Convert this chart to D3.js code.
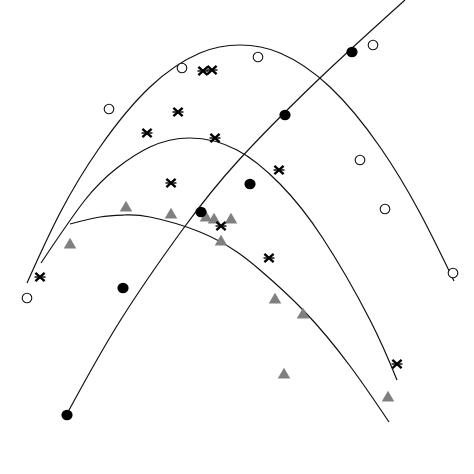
<!DOCTYPE html>
<html>
<head>
<meta charset="utf-8">
<script src="https://cdn.jsdelivr.net/npm/d3@7"></script>
<style>
  body { margin: 0; background: #fff; }
  svg { display: block; }
</style>
</head>
<body>
<svg id="chart" width="474" height="474"></svg>
<script>
// series values (x, y), y grows upward
const openX = [27, 109, 182, 258, 373, 360, 385, 453];
const openY = [176, 365, 406, 417, 429, 314, 265, 201];

const filledX = [67, 123, 201, 250, 285, 352];
const filledY = [59, 186, 262, 290, 359, 422];

const starX = [40, 147, 171, 178, 203, 212, 215, 221, 269, 279, 397];
const starY = [197, 341, 291, 362, 403, 404, 336, 248, 216, 304, 110];

const triX = [70, 126, 171, 206, 214, 231, 221, 275, 303, 284, 388, 380];
const triY = [230, 267, 260, 257, 255, 255, 233, 175, 160, 100, 77, 480];

// trend curves, points
const openCurveX = [27, 60, 100, 150, 200, 240, 280, 330, 380, 420, 454];
const openCurveY = [191, 261, 327, 387, 421, 429, 421, 387, 327, 261, 193];

const filledCurveX = [68, 120, 183, 238, 320, 405];
const filledCurveY = [62, 153, 245, 313, 396, 474];

const starCurveX = [41, 85, 117, 150, 190, 237, 280, 322, 370, 397];
const starCurveY = [211, 274, 306, 327, 336, 324, 290, 237, 154, 94];

const triCurveX = [70, 100, 125, 150, 200, 237, 260, 304, 350, 389];
const triCurveY = [250, 257, 259, 257, 242, 222, 204, 163, 108, 52];

const svg = d3.select('#chart');
const x = d3.scaleLinear().domain([0, 474]).range([0, 474]);
const y = d3.scaleLinear().domain([0, 474]).range([474, 0]);

const zip = (a, b) => a.map((v, i) => [v, b[i]]);

const line = d3.line()
    .x(d => x(d[0]))
    .y(d => y(d[1]))
    .curve(d3.curveNatural);

[[openCurveX, openCurveY], [filledCurveX, filledCurveY], [starCurveX, starCurveY], [triCurveX, triCurveY]]
    .forEach(c => {
        svg.append('path')
            .attr('d', line(zip(c[0], c[1])))
            .attr('fill', 'none')
            .attr('stroke', '#111')
            .attr('stroke-width', 1.2);
    });

// gray triangles
svg.selectAll('.tri')
    .data(zip(triX, triY))
    .enter()
    .append('path')
    .classed('tri', true)
    .attr('d', d3.symbol().type(d3.symbolTriangle).size(68))
    .attr('transform', d => `translate(${x(d[0])},${y(d[1]) + 1})`)
    .attr('fill', '#808080');

// open circles
svg.selectAll('.open')
    .data(zip(openX, openY))
    .enter()
    .append('circle')
    .classed('open', true)
    .attr('cx', d => x(d[0]))
    .attr('cy', d => y(d[1]))
    .attr('r', 4.8)
    .attr('fill', '#fff')
    .attr('stroke', '#111')
    .attr('stroke-width', 1.1);

// filled circles
svg.selectAll('.filled')
    .data(zip(filledX, filledY))
    .enter()
    .append('ellipse')
    .classed('filled', true)
    .attr('cx', d => x(d[0]))
    .attr('cy', d => y(d[1]))
    .attr('rx', 5.6)
    .attr('ry', 5.2)
    .attr('fill', '#000');

// asterisks: bold X plus a thinner horizontal bar
const starG = svg.selectAll('.star')
    .data(zip(starX, starY))
    .enter()
    .append('g')
    .classed('star', true)
    .attr('transform', d => `translate(${x(d[0])},${y(d[1])})`);
starG.append('path')
    .attr('d', 'M-4.6,-4.2L4.6,4.2M-4.6,4.2L4.6,-4.2')
    .attr('fill', 'none')
    .attr('stroke', '#000')
    .attr('stroke-width', 2.4);
starG.append('path')
    .attr('d', 'M-5.5,0L5.5,0')
    .attr('stroke', '#000')
    .attr('stroke-width', 1.4);
</script>
</body>
</html>
